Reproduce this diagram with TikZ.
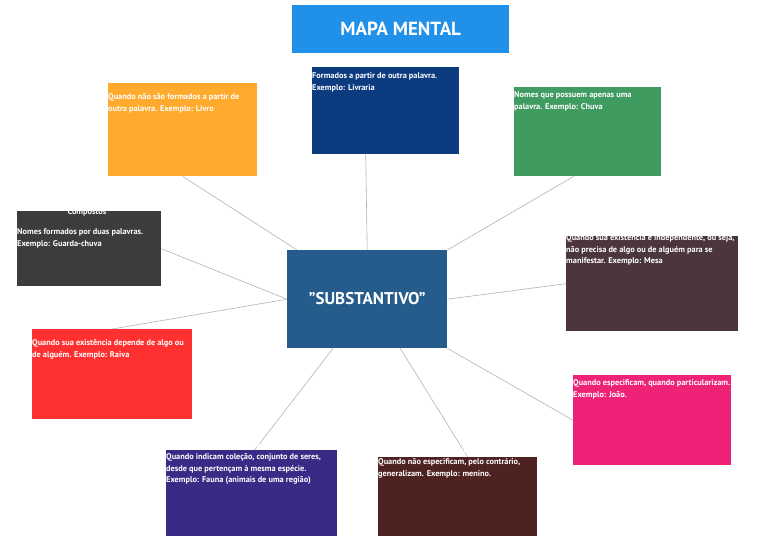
\documentclass[tikz,border=0pt]{standalone}
\usepackage{fontspec}
\setmainfont{PT Sans}
\begin{document}
\begin{tikzpicture}[x=1pt,y=-1pt,
  box/.style={draw=none,anchor=north west,inner sep=0pt},
  txt/.style={anchor=north west,inner sep=0pt,text=white,font=\bfseries\fontsize{8.3}{11.5}\selectfont,align=flush left},
  conn/.style={draw=gray!60,line width=0.6pt}]
\useasboundingbox (0,0) rectangle (768,543);
\definecolor{ctitle}{HTML}{2090E8}
\definecolor{cprim}{HTML}{FFA92D}
\definecolor{cder}{HTML}{0D3B80}
\definecolor{csim}{HTML}{3F9B60}
\definecolor{ccomp}{HTML}{3E3B3B}
\definecolor{cconc}{HTML}{4B3640}
\definecolor{ccen}{HTML}{265C8C}
\definecolor{cabs}{HTML}{FF3030}
\definecolor{cprop}{HTML}{EE2277}
\definecolor{ccol}{HTML}{3A2A85}
\definecolor{ccom}{HTML}{4F2222}
% boxes
\node[box,fill=ctitle,minimum width=217,minimum height=48] (title) at (292,5) {};
\node[text=white,font=\bfseries\fontsize{19}{22}\selectfont] (titlet) at (title.center) {MAPA MENTAL};
\node[box,fill=cprim,minimum width=149,minimum height=93] (prim) at (108,83) {};
\node[box,fill=cder,minimum width=147,minimum height=87] (der) at (312,67) {};
\node[box,fill=csim,minimum width=147,minimum height=89] (sim) at (514,87) {};
\node[box,fill=ccomp,minimum width=144,minimum height=75] (comp) at (17,211) {};
\node[box,fill=cconc,minimum width=172,minimum height=95] (conc) at (566,236) {};
\node[box,fill=cabs,minimum width=160,minimum height=90] (abs) at (32,329) {};
\node[box,fill=cprop,minimum width=158,minimum height=90] (prop) at (573,375) {};
\node[box,fill=ccol,minimum width=171,minimum height=86] (col) at (166,450) {};
\node[box,fill=ccom,minimum width=159,minimum height=79] (com) at (378,457) {};
\node[box,fill=ccen,minimum width=160,minimum height=98] (cen) at (287,250) {};
% connectors
\begin{scope}[on background layer/.style={}]
\end{scope}
\draw[conn] (prim.south) ++(-0.0,0) coordinate (a1);
\foreach \n in {prim,der,sim,comp,conc,abs,prop,col,com}{}
\path (cen.north west) ++(10,0) coordinate (cprim);
\draw[conn] (prim.south) -- (cprim);
\draw[conn] (der.south) ++(-20,0) coordinate (dd);
\draw[conn] (dd) -- (cen.north) ++(-12,0);
\draw[conn] (sim.south) ++(-14,0) coordinate (ss);
\draw[conn] (ss) -- (cen.north east);
\draw[conn] (comp.east) -- (cen.west);
\draw[conn] (conc.west) -- (cen.east);
\draw[conn] (abs.north) ++(-0,0) coordinate (aa);
\path (cen.west) ++(0,0) coordinate (cw);
\draw[conn] (aa) -- (cw);
\draw[conn] (prop.west) -- (cen.south east);
\path (col.north) ++(3,0) coordinate (cc);
\path (cen.south west) ++(46,0) coordinate (cs1);
\draw[conn] (cc) -- (cs1);
\path (com.north) ++(10,0) coordinate (mm);
\path (cen.south) ++(33,0) coordinate (cs2);
\draw[conn] (mm) -- (cs2);
% redraw boxes over connectors
\fill[cprim] (prim.north west) rectangle (prim.south east);
\fill[cder] (der.north west) rectangle (der.south east);
\fill[csim] (sim.north west) rectangle (sim.south east);
\fill[ccomp] (comp.north west) rectangle (comp.south east);
\fill[cconc] (conc.north west) rectangle (conc.south east);
\fill[cabs] (abs.north west) rectangle (abs.south east);
\fill[cprop] (prop.north west) rectangle (prop.south east);
\fill[ccol] (col.north west) rectangle (col.south east);
\fill[ccom] (com.north west) rectangle (com.south east);
\fill[ccen] (cen.north west) rectangle (cen.south east);
\node[text=white,font=\bfseries\fontsize{17}{20}\selectfont] (cent) at ([yshift=1]cen.center) {"SUBSTANTIVO"};
% texts
\node[txt,text width=147] (primt) at ([yshift=10]prim.north west) {{\centering "Primitivos"\par}\vspace{9pt}Quando não são formados a partir de outra palavra. Exemplo: Livro};
\node[txt,text width=145] (dert) at ([yshift=14]der.north west) {{\centering "Derivados"\par}\vspace{8pt}Formados a partir de outra palavra. Exemplo: Livraria};
\node[txt,text width=146] (simt) at ([yshift=16]sim.north west) {{\centering "Simples"\par}\vspace{9pt}Nomes que possuem apenas uma palavra. Exemplo: Chuva};
\node[txt,text width=140] (compt) at ([yshift=3]comp.north west) {{\centering "Compostos"\par}\vspace{9pt}Nomes formados por duas palavras. Exemplo: Guarda-chuva};
\node[txt,text width=172] (conct) at ([yshift=13]conc.north west) {{\centering "Concretos"\par}Quando sua existência é independente, ou seja, não precisa de algo ou de alguém para se manifestar. Exemplo: Mesa};
\node[txt,text width=160] (abst) at ([yshift=10]abs.north west) {{\centering "Abstratos"\par}\vspace{9pt}Quando sua existência depende de algo ou de alguém. Exemplo: Raiva};
\node[txt,text width=158] (propt) at ([yshift=16]prop.north west) {{\centering "Próprio"\par}\vspace{9pt}Quando especificam, quando particularizam. Exemplo: João.};
\node[txt,text width=171] (colt) at ([yshift=8]col.north west) {{\centering "Coletivos"\par}Quando indicam coleção, conjunto de seres, desde que pertençam à mesma espécie. Exemplo: Fauna (animais de uma região)};
\node[txt,text width=158] (comt) at ([yshift=10]com.north west) {{\centering "Comum"\par}Quando não especificam, pelo contrário, generalizam. Exemplo: menino.};
\end{tikzpicture}
\end{document}
